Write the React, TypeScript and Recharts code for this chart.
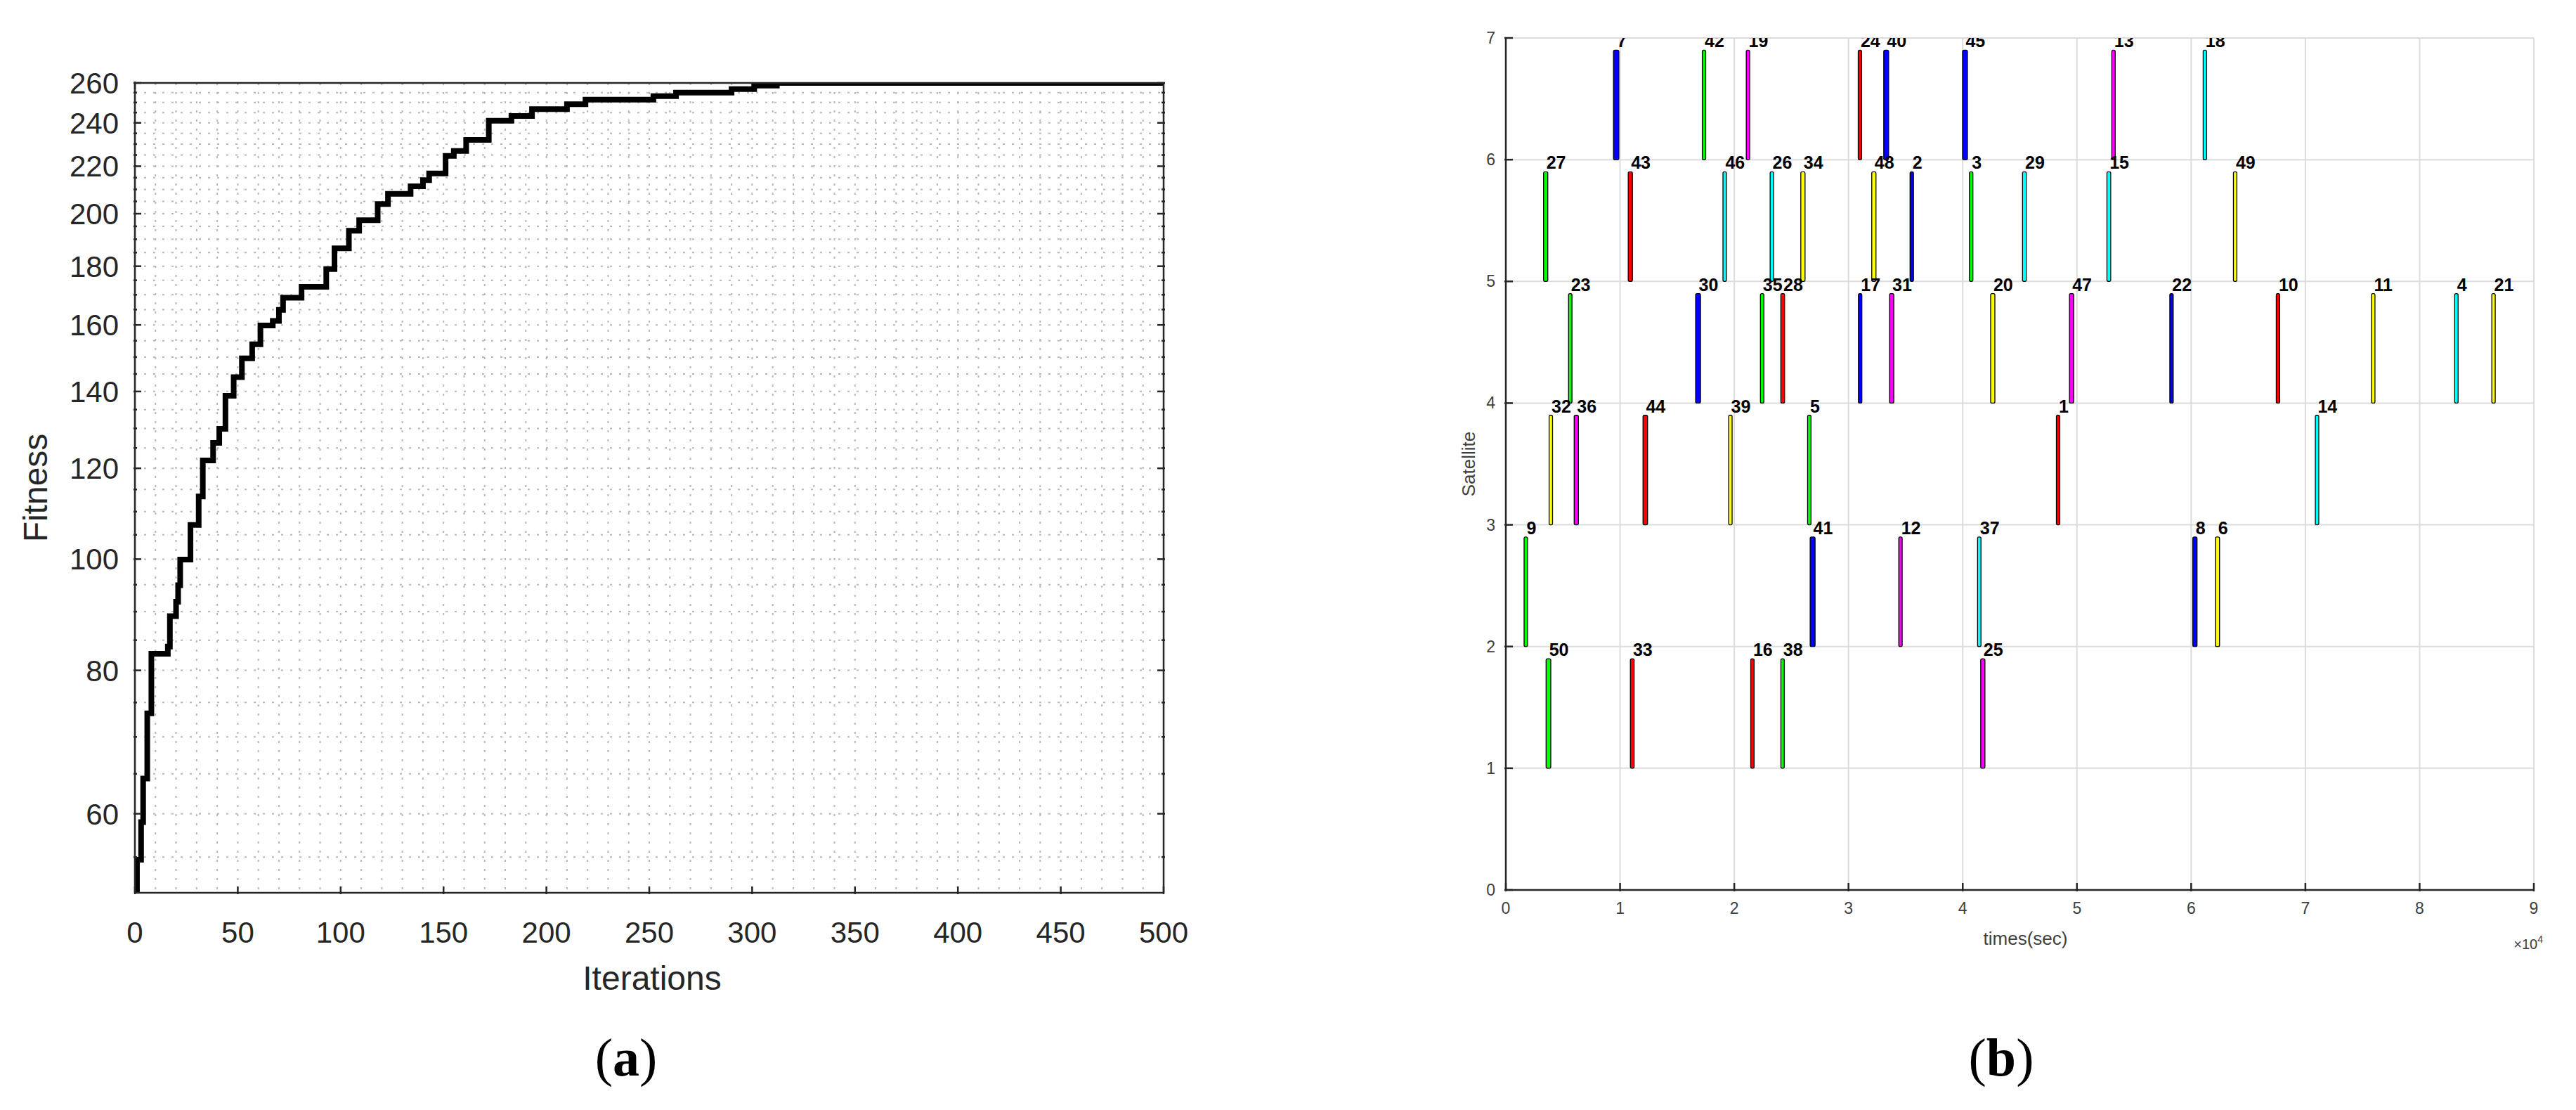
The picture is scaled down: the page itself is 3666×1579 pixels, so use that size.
import React from "react";
import {
  LineChart,
  Line,
  ComposedChart,
  Scatter,
  ReferenceArea,
  XAxis,
  YAxis,
  CartesianGrid,
} from "recharts";

// ---------- panel (a): best fitness per iteration (stairs, log y) ----------
const iterations = [
  0, 1, 3, 4, 6, 8, 16, 17, 20, 21, 22, 27, 31, 33, 38, 41, 44, 48, 52, 57,
  61, 67, 70, 72, 81, 93, 97, 104, 109, 118, 123, 134, 140, 143, 151, 155,
  161, 172, 183, 193, 210, 219, 252, 263, 290, 301, 312, 500,
];
const fitness = [
  51.2, 54.7, 59.0, 64.4, 73.4, 82.7, 83.9, 89.2, 91.8, 94.9, 99.9, 107.1,
  113.4, 121.9, 126.3, 129.9, 138.8, 144.1, 149.6, 153.9, 159.8, 161.3, 164.9,
  169.0, 172.7, 179.0, 186.6, 193.3, 197.4, 203.9, 208.1, 211.3, 213.9, 216.8,
  224.6, 226.8, 231.9, 241.0, 243.3, 246.7, 249.1, 251.4, 253.2, 255.0, 256.8,
  258.6, 260, 260,
];
const iterTicks = [
  0, 10, 20, 30, 40, 50, 60, 70, 80, 90, 100, 110, 120, 130, 140, 150, 160,
  170, 180, 190, 200, 210, 220, 230, 240, 250, 260, 270, 280, 290, 300, 310,
  320, 330, 340, 350, 360, 370, 380, 390, 400, 410, 420, 430, 440, 450, 460,
  470, 480, 490, 500,
];
const iterLabels = [0, 50, 100, 150, 200, 250, 300, 350, 400, 450, 500];
const fitnessTicks = [
  55, 60, 65, 70, 75, 80, 85, 90, 95, 100, 105, 110, 115, 120, 125, 130, 135,
  140, 145, 150, 155, 160, 165, 170, 175, 180, 185, 190, 195, 200, 205, 210,
  215, 220, 225, 230, 235, 240, 245, 250, 255, 260,
];
const fitnessLabels = [60, 80, 100, 120, 140, 160, 180, 200, 220, 240, 260];

// ---------- panel (b): task schedule per satellite ----------
const taskIds = [
  7, 42, 19, 24, 40, 45, 13, 18,
  27, 43, 46, 26, 34, 48, 2, 3, 29, 15, 49,
  23, 30, 35, 28, 17, 31, 20, 47, 22, 10, 11, 4, 21,
  32, 36, 44, 39, 5, 1, 14,
  9, 41, 12, 37, 8, 6,
  50, 33, 16, 38, 25,
];
const taskSatellite = [
  6, 6, 6, 6, 6, 6, 6, 6,
  5, 5, 5, 5, 5, 5, 5, 5, 5, 5, 5,
  4, 4, 4, 4, 4, 4, 4, 4, 4, 4, 4, 4, 4,
  3, 3, 3, 3, 3, 3, 3,
  2, 2, 2, 2, 2, 2,
  1, 1, 1, 1, 1,
];
const taskStart = [
  9425, 17200, 21050, 30850, 33085, 39985, 53050, 61050,
  3305, 10715, 19010, 23140, 25825, 32035, 35390, 40590, 45235, 52625, 63700,
  5490, 16615, 22290, 24075, 30870, 33595, 42445, 49345, 58130, 67450, 75790, 83070, 86320,
  3790, 5985, 12010, 19510, 26420, 48200, 70870,
  1600, 26645, 34400, 41300, 60145, 62115,
  3525, 10905, 21440, 24080, 41575,
];
const taskEnd = [
  9895, 17500, 21350, 31150, 33515, 40415, 53350, 61350,
  3675, 11085, 19310, 23440, 26195, 32405, 35690, 40890, 45565, 52955, 64000,
  5790, 17045, 22590, 24405, 31170, 33965, 42815, 49715, 58430, 67750, 76090, 83370, 86620,
  4090, 6355, 12410, 19810, 26720, 48500, 71170,
  1900, 27075, 34700, 41600, 60515, 62485,
  3935, 11235, 21740, 24380, 41945,
];
const taskColor = [
  "b", "g", "m", "r", "b", "b", "m", "c",
  "g", "r", "c", "c", "y", "y", "b", "g", "c", "c", "y",
  "g", "b", "g", "r", "b", "m", "y", "m", "b", "r", "y", "c", "y",
  "y", "m", "r", "y", "g", "r", "c",
  "g", "b", "m", "c", "b", "y",
  "g", "r", "r", "g", "m",
];
const timeTicks = [0, 10000, 20000, 30000, 40000, 50000, 60000, 70000, 80000, 90000];
const satelliteTicks = [0, 1, 2, 3, 4, 5, 6, 7];

const PALETTE: Record<string, string> = {
  b: "#0000ff",
  g: "#00ff00",
  r: "#ff0000",
  c: "#00ffff",
  y: "#ffff00",
  m: "#ff00ff",
};

const SANS = "'Liberation Sans', Arial, Helvetica, sans-serif";
const SERIF = "'Liberation Serif', 'Times New Roman', serif";
const INK = "#262626";
const INK_B = "#404040";
const BAR_SPAN = 0.9;

const curve = iterations.map((it, i) => ({ iter: it, fitness: fitness[i] }));

const tasks = taskIds.map((id, i) => ({
  id,
  sat: taskSatellite[i],
  start: taskStart[i],
  end: taskEnd[i],
  color: PALETTE[taskColor[i]],
  mid: (taskStart[i] + taskEnd[i]) / 2,
  top: taskSatellite[i] + BAR_SPAN,
}));

// ---------- tick renderers (MATLAB style: ticks point inward) ----------
const fitLeftTick = (p: any) => {
  const v = p.payload.value;
  const major = fitnessLabels.includes(v);
  return (
    <g>
      <line x1={p.x} y1={p.y} x2={p.x + (major ? 11 : 5)} y2={p.y} stroke={INK} strokeWidth={2.5} />
      {major && (
        <text x={p.x - 21} y={p.y + 15} textAnchor="end" fontSize={42} fill={INK} fontFamily={SANS}>
          {v}
        </text>
      )}
    </g>
  );
};

const fitRightTick = (p: any) => {
  const major = fitnessLabels.includes(p.payload.value);
  return <line x1={p.x} y1={p.y} x2={p.x - (major ? 11 : 5)} y2={p.y} stroke={INK} strokeWidth={2.5} />;
};

const iterBottomTick = (p: any) => {
  const v = p.payload.value;
  if (!iterLabels.includes(v)) return <g />;
  return (
    <g>
      <line x1={p.x} y1={p.y} x2={p.x} y2={p.y - 11} stroke={INK} strokeWidth={2.5} />
      <text x={p.x} y={p.y + 69} textAnchor="middle" fontSize={42} fill={INK} fontFamily={SANS}>
        {v}
      </text>
    </g>
  );
};

const iterTopTick = (p: any) => (
  <line x1={p.x} y1={p.y} x2={p.x} y2={p.y + 11} stroke={INK} strokeWidth={2.5} />
);

const satTick = (p: any) => (
  <g>
    <line x1={p.x} y1={p.y} x2={p.x + 12} y2={p.y} stroke={INK} strokeWidth={2.5} />
    <text x={p.x - 13} y={p.y + 8} textAnchor="end" fontSize={23} fill={INK_B} fontFamily={SANS}>
      {p.payload.value}
    </text>
  </g>
);

const timeTick = (p: any) => (
  <g>
    <line x1={p.x} y1={p.y} x2={p.x} y2={p.y - 12} stroke={INK} strokeWidth={2.5} />
    <text x={p.x} y={p.y + 32} textAnchor="middle" fontSize={23} fill={INK_B} fontFamily={SANS}>
      {p.payload.value / 10000}
    </text>
  </g>
);

// ---------- axis titles ----------
const IterationsTitle = ({ viewBox }: any) => (
  <text
    x={viewBox.x + viewBox.width / 2 + 4}
    y={viewBox.y + 138}
    textAnchor="middle"
    fontSize={48}
    fill={INK}
    fontFamily={SANS}
  >
    Iterations
  </text>
);

const FitnessTitle = ({ viewBox }: any) => {
  const cx = viewBox.x + 67;
  const cy = viewBox.y + viewBox.height / 2;
  return (
    <text
      x={cx}
      y={cy}
      transform={`rotate(-90 ${cx} ${cy})`}
      textAnchor="middle"
      fontSize={48}
      fill={INK}
      fontFamily={SANS}
    >
      Fitness
    </text>
  );
};

const TimeTitle = ({ viewBox }: any) => (
  <g fontFamily={SANS}>
    <text
      x={viewBox.x + viewBox.width / 2 + 8}
      y={viewBox.y + 78}
      textAnchor="middle"
      fontSize={26}
      fill={INK_B}
    >
      times(sec)
    </text>
    <text x={viewBox.x + viewBox.width + 13} y={viewBox.y + 84} textAnchor="end" fontSize={20} fill={INK_B}>
      ×10<tspan dy={-9} fontSize={14}>4</tspan>
    </text>
  </g>
);

const SatelliteTitle = ({ viewBox }: any) => {
  const cx = viewBox.x + 199;
  const cy = viewBox.y + viewBox.height / 2;
  return (
    <text
      x={cx}
      y={cy}
      transform={`rotate(-90 ${cx} ${cy})`}
      textAnchor="middle"
      fontSize={26}
      fill={INK_B}
      fontFamily={SANS}
    >
      Satellite
    </text>
  );
};

const TaskLabel = (p: any) => (
  <text
    x={p.cx + 1}
    y={p.cy - 4}
    fontSize={25}
    fontWeight="bold"
    fill="#000"
    fontFamily={SANS}
  >
    {p.payload.id}
  </text>
);

const FitnessPanel = () => (
  <LineChart
    width={1700}
    height={1460}
    data={curve}
    margin={{ top: 117, right: 43, bottom: 189, left: 0 }}
  >
    <CartesianGrid stroke="#b8b8b8" strokeWidth={2} strokeDasharray="3 10" />
    <XAxis
      dataKey="iter"
      type="number"
      domain={[0, 500]}
      allowDataOverflow
      ticks={iterTicks}
      interval={0}
      height={1}
      tickSize={0}
      tickLine={false}
      axisLine={{ stroke: INK, strokeWidth: 2.5 }}
      tick={iterBottomTick}
      label={<IterationsTitle />}
    />
    <XAxis
      xAxisId="top"
      orientation="top"
      type="number"
      domain={[0, 500]}
      allowDataOverflow
      ticks={iterLabels}
      interval={0}
      height={1}
      tickSize={0}
      tickLine={false}
      axisLine={{ stroke: INK, strokeWidth: 2.5 }}
      tick={iterTopTick}
    />
    <YAxis
      type="number"
      scale="log"
      domain={[51.2, 260]}
      allowDataOverflow
      ticks={fitnessTicks}
      interval={0}
      width={192}
      tickSize={0}
      tickLine={false}
      axisLine={{ stroke: INK, strokeWidth: 2.5 }}
      tick={fitLeftTick}
      label={<FitnessTitle />}
    />
    <YAxis
      yAxisId="right"
      orientation="right"
      type="number"
      scale="log"
      domain={[51.2, 260]}
      allowDataOverflow
      ticks={fitnessTicks}
      interval={0}
      width={1}
      tickSize={0}
      tickLine={false}
      axisLine={{ stroke: INK, strokeWidth: 2.5 }}
      tick={fitRightTick}
    />
    <Line
      type="stepAfter"
      dataKey="fitness"
      stroke="#000"
      strokeWidth={8}
      dot={false}
      activeDot={false}
      isAnimationActive={false}
      strokeLinejoin="miter"
    />
  </LineChart>
);

const SchedulePanel = () => (
  <ComposedChart
    width={1766}
    height={1400}
    margin={{ top: 54, right: 60, bottom: 133, left: 0 }}
  >
    <CartesianGrid stroke="#dcdcdc" strokeWidth={2} />
    <XAxis
      dataKey="mid"
      type="number"
      domain={[0, 90000]}
      allowDataOverflow
      ticks={timeTicks}
      interval={0}
      height={1}
      tickSize={0}
      tickLine={false}
      axisLine={{ stroke: INK, strokeWidth: 2.5 }}
      tick={timeTick}
      label={<TimeTitle />}
    />
    <YAxis
      type="number"
      domain={[0, 7]}
      allowDataOverflow
      ticks={satelliteTicks}
      interval={0}
      width={243}
      tickSize={0}
      tickLine={false}
      axisLine={{ stroke: INK, strokeWidth: 2.5 }}
      tick={satTick}
      label={<SatelliteTitle />}
    />
    {tasks.map((t) => (
      <ReferenceArea
        key={t.id}
        x1={t.start}
        x2={t.end}
        y1={t.sat}
        y2={t.top}
        ifOverflow="visible"
        shape={(p: any) => (
          <rect
            x={p.x}
            y={p.y}
            width={p.width}
            height={p.height}
            rx={2}
            fill={t.color}
            fillOpacity={1}
            stroke="#000"
            strokeWidth={1.3}
          />
        )}
      />
    ))}
    <Scatter data={tasks} dataKey="top" shape={TaskLabel} isAnimationActive={false} />
  </ComposedChart>
);

export default function App() {
  return (
    <div
      style={{
        position: "absolute",
        left: 0,
        top: 0,
        width: 3666,
        height: 1579,
        background: "#fff",
        overflow: "hidden",
      }}
    >
      <div style={{ position: "absolute", left: 0, top: 0 }}>
        <FitnessPanel />
      </div>
      <div style={{ position: "absolute", left: 1900, top: 0 }}>
        <SchedulePanel />
      </div>
      <svg
        width={3666}
        height={139}
        style={{ position: "absolute", left: 0, top: 1440 }}
        fontFamily={SERIF}
        fontSize={76}
      >
        <text x={891} y={90} textAnchor="middle" fill="#000">
          (<tspan fontWeight="bold">a</tspan>)
        </text>
        <text x={2848} y={90} textAnchor="middle" fill="#000">
          (<tspan fontWeight="bold">b</tspan>)
        </text>
      </svg>
    </div>
  );
}
